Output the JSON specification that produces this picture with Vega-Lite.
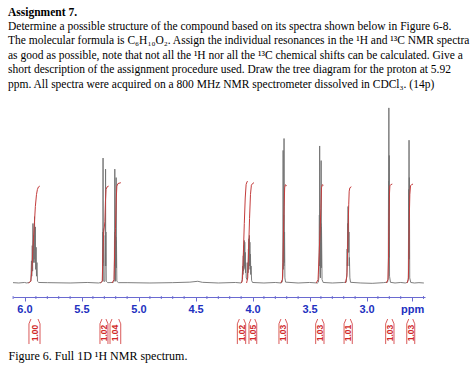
{
  "$schema": "https://vega.github.io/schema/vega-lite/v6.json",
  "width": 412,
  "height": 197,
  "autosize": {"type": "none"},
  "padding": {"left": 13, "top": 100, "right": 49, "bottom": 82},
  "background": "white",
  "config": {
    "view": {"stroke": null},
    "axisX": {
      "labelOverlap": false,
      "labelFlush": false,
      "labelFont": "Liberation Sans",
      "labelFontSize": 11,
      "labelFontWeight": "bold",
      "labelColor": "#2230c0",
      "labelPadding": 2,
      "domainColor": "#6a6ad0",
      "domainWidth": 1,
      "tickColor": "#6a6ad0",
      "tickSize": 4,
      "grid": false,
      "titleFont": "Liberation Serif",
      "titleFontSize": 12,
      "titleFontWeight": "normal",
      "titleColor": "black",
      "titleAnchor": "start",
      "titleAlign": "left",
      "titleBaseline": "alphabetic",
      "titleX": -5,
      "titleY": 62
    }
  },
  "title": {
    "text": "Assignment 7.",
    "subtitle": [
      "Determine a possible structure of the compound based on its spectra shown below in Figure 6-8.",
      "The molecular formula is C₆H₁₀O₂. Assign the individual resonances in the ¹H and ¹³C NMR spectra",
      "as good as possible, note that not all the ¹H nor all the ¹³C chemical shifts can be calculated. Give a",
      "short description of the assignment procedure used. Draw the tree diagram for the proton at 5.92",
      "ppm. All spectra were acquired on a 800 MHz NMR spectrometer dissolved in CDCl₃. (14p)"
    ],
    "anchor": "start",
    "frame": "group",
    "dx": -5,
    "offset": 10,
    "font": "Liberation Serif",
    "fontSize": 11.5,
    "fontWeight": "bold",
    "color": "black",
    "subtitleFont": "Liberation Serif",
    "subtitleFontSize": 11.5,
    "subtitleColor": "black",
    "subtitlePadding": 2,
    "subtitleLineHeight": 14.5
  },
  "datasets": {
    "spec": [
      {"p": 6.101, "i": 0.2}, {"p": 6.05, "i": 0}, {"p": 6.0, "i": 0.3}, {"p": 5.98, "i": 0},
      {"p": 5.955, "i": 0.4}, {"p": 5.944, "i": 1.2}, {"p": 5.939, "i": 13}, {"p": 5.9365, "i": 4},
      {"p": 5.932, "i": 22}, {"p": 5.929, "i": 7}, {"p": 5.926, "i": 35}, {"p": 5.923, "i": 12},
      {"p": 5.919, "i": 28}, {"p": 5.916, "i": 14}, {"p": 5.912, "i": 39}, {"p": 5.909, "i": 12},
      {"p": 5.905, "i": 33}, {"p": 5.902, "i": 8}, {"p": 5.898, "i": 21}, {"p": 5.895, "i": 4},
      {"p": 5.891, "i": 12}, {"p": 5.886, "i": 1}, {"p": 5.875, "i": 0.3},
      {"p": 5.8, "i": 0.2}, {"p": 5.6, "i": 0}, {"p": 5.45, "i": 0.3}, {"p": 5.35, "i": 0},
      {"p": 5.33, "i": 0.3}, {"p": 5.316, "i": 1}, {"p": 5.3135, "i": 30}, {"p": 5.3125, "i": 10},
      {"p": 5.311, "i": 73.5}, {"p": 5.3095, "i": 12}, {"p": 5.308, "i": 32}, {"p": 5.305, "i": 1},
      {"p": 5.295, "i": 1}, {"p": 5.2915, "i": 28}, {"p": 5.2905, "i": 10}, {"p": 5.289, "i": 67},
      {"p": 5.2875, "i": 10}, {"p": 5.286, "i": 30}, {"p": 5.283, "i": 1}, {"p": 5.27, "i": 0.2},
      {"p": 5.225, "i": 0.3}, {"p": 5.2125, "i": 1}, {"p": 5.2105, "i": 30}, {"p": 5.2095, "i": 10},
      {"p": 5.208, "i": 67}, {"p": 5.2065, "i": 10}, {"p": 5.2055, "i": 28}, {"p": 5.2025, "i": 1},
      {"p": 5.1985, "i": 27}, {"p": 5.1975, "i": 9}, {"p": 5.196, "i": 62}, {"p": 5.1945, "i": 9},
      {"p": 5.1935, "i": 25}, {"p": 5.19, "i": 1}, {"p": 5.175, "i": 0.2},
      {"p": 5.1, "i": 0.2}, {"p": 4.9, "i": 0}, {"p": 4.7, "i": 0.2}, {"p": 4.55, "i": 0.5},
      {"p": 4.48, "i": 1}, {"p": 4.44, "i": 0.4}, {"p": 4.3, "i": 0}, {"p": 4.15, "i": 0.3}, {"p": 4.1, "i": 0},
      {"p": 4.092, "i": 1}, {"p": 4.086, "i": 10}, {"p": 4.0835, "i": 5}, {"p": 4.081, "i": 16},
      {"p": 4.079, "i": 7}, {"p": 4.077, "i": 22}, {"p": 4.0745, "i": 9}, {"p": 4.072, "i": 25},
      {"p": 4.07, "i": 10}, {"p": 4.068, "i": 24}, {"p": 4.0655, "i": 8}, {"p": 4.063, "i": 18},
      {"p": 4.061, "i": 6}, {"p": 4.059, "i": 12}, {"p": 4.055, "i": 3}, {"p": 4.048, "i": 2},
      {"p": 4.045, "i": 4}, {"p": 4.041, "i": 12}, {"p": 4.0385, "i": 6}, {"p": 4.036, "i": 20},
      {"p": 4.034, "i": 8}, {"p": 4.032, "i": 26}, {"p": 4.0295, "i": 10}, {"p": 4.027, "i": 28},
      {"p": 4.025, "i": 10}, {"p": 4.023, "i": 24}, {"p": 4.0205, "i": 8}, {"p": 4.018, "i": 17},
      {"p": 4.0155, "i": 5}, {"p": 4.013, "i": 10}, {"p": 4.008, "i": 1.5}, {"p": 4.0, "i": 0.3},
      {"p": 3.9, "i": 0}, {"p": 3.8, "i": 0.3}, {"p": 3.75, "i": 0},
      {"p": 3.74, "i": 0.5}, {"p": 3.734, "i": 4}, {"p": 3.7315, "i": 78}, {"p": 3.7295, "i": 8},
      {"p": 3.7265, "i": 40}, {"p": 3.725, "i": 10}, {"p": 3.7235, "i": 85}, {"p": 3.7215, "i": 12},
      {"p": 3.719, "i": 30}, {"p": 3.716, "i": 3}, {"p": 3.71, "i": 0.5},
      {"p": 3.6, "i": 0}, {"p": 3.5, "i": 0.3}, {"p": 3.43, "i": 0},
      {"p": 3.422, "i": 0.5}, {"p": 3.416, "i": 5}, {"p": 3.4135, "i": 40}, {"p": 3.4125, "i": 10},
      {"p": 3.411, "i": 80.6}, {"p": 3.4095, "i": 10}, {"p": 3.408, "i": 38}, {"p": 3.404, "i": 3},
      {"p": 3.4005, "i": 35}, {"p": 3.3995, "i": 9}, {"p": 3.398, "i": 72}, {"p": 3.3965, "i": 9},
      {"p": 3.395, "i": 33}, {"p": 3.39, "i": 2}, {"p": 3.38, "i": 0.3},
      {"p": 3.3, "i": 0}, {"p": 3.2, "i": 0.3},
      {"p": 3.178, "i": 0.5}, {"p": 3.172, "i": 6}, {"p": 3.17, "i": 20}, {"p": 3.168, "i": 10},
      {"p": 3.166, "i": 35}, {"p": 3.164, "i": 18}, {"p": 3.162, "i": 45}, {"p": 3.16, "i": 22},
      {"p": 3.158, "i": 42}, {"p": 3.156, "i": 18}, {"p": 3.154, "i": 30}, {"p": 3.152, "i": 10},
      {"p": 3.15, "i": 15}, {"p": 3.146, "i": 3}, {"p": 3.14, "i": 0.4},
      {"p": 3.05, "i": 0}, {"p": 2.95, "i": -0.2}, {"p": 2.85, "i": 0.2},
      {"p": 2.815, "i": 0.5}, {"p": 2.809, "i": 3}, {"p": 2.807, "i": 60}, {"p": 2.8055, "i": 15},
      {"p": 2.804, "i": 103}, {"p": 2.8025, "i": 15}, {"p": 2.801, "i": 75}, {"p": 2.798, "i": 4},
      {"p": 2.79, "i": 0.4},
      {"p": 2.75, "i": 0}, {"p": 2.7, "i": 0.3}, {"p": 2.66, "i": 0},
      {"p": 2.64, "i": 0.4}, {"p": 2.633, "i": 3}, {"p": 2.63, "i": 55}, {"p": 2.6285, "i": 14},
      {"p": 2.627, "i": 84}, {"p": 2.6255, "i": 14}, {"p": 2.624, "i": 62}, {"p": 2.621, "i": 3},
      {"p": 2.612, "i": 0.3},
      {"p": 2.58, "i": 0}, {"p": 2.54, "i": 0.2}, {"p": 2.497, "i": 0}
    ],
    "integ": [
      {"g": 1, "p": 5.965, "v": 0}, {"g": 1, "p": 5.945, "v": 1}, {"g": 1, "p": 5.935, "v": 8},
      {"g": 1, "p": 5.925, "v": 22}, {"g": 1, "p": 5.915, "v": 33}, {"g": 1, "p": 5.905, "v": 45},
      {"g": 1, "p": 5.895, "v": 52}, {"g": 1, "p": 5.887, "v": 55}, {"g": 1, "p": 5.878, "v": 56.5},
      {"g": 1, "p": 5.866, "v": 57},
      {"g": 2, "p": 5.335, "v": 0}, {"g": 2, "p": 5.318, "v": 1}, {"g": 2, "p": 5.312, "v": 18},
      {"g": 2, "p": 5.305, "v": 30}, {"g": 2, "p": 5.295, "v": 36}, {"g": 2, "p": 5.29, "v": 48},
      {"g": 2, "p": 5.285, "v": 55}, {"g": 2, "p": 5.276, "v": 56.5}, {"g": 2, "p": 5.262, "v": 57},
      {"g": 3, "p": 5.232, "v": 0}, {"g": 3, "p": 5.215, "v": 2}, {"g": 3, "p": 5.208, "v": 22},
      {"g": 3, "p": 5.202, "v": 32}, {"g": 3, "p": 5.195, "v": 50}, {"g": 3, "p": 5.19, "v": 57},
      {"g": 3, "p": 5.18, "v": 58.5}, {"g": 3, "p": 5.155, "v": 59},
      {"g": 4, "p": 4.097, "v": 0}, {"g": 4, "p": 4.088, "v": 2}, {"g": 4, "p": 4.08, "v": 18},
      {"g": 4, "p": 4.072, "v": 35}, {"g": 4, "p": 4.064, "v": 50}, {"g": 4, "p": 4.056, "v": 58},
      {"g": 4, "p": 4.048, "v": 59.5}, {"g": 4, "p": 4.042, "v": 60},
      {"g": 5, "p": 4.052, "v": 0}, {"g": 5, "p": 4.042, "v": 3}, {"g": 5, "p": 4.034, "v": 20},
      {"g": 5, "p": 4.026, "v": 38}, {"g": 5, "p": 4.018, "v": 52}, {"g": 5, "p": 4.01, "v": 57.5},
      {"g": 5, "p": 4.0, "v": 58.5}, {"g": 5, "p": 3.987, "v": 59},
      {"g": 6, "p": 3.752, "v": 0}, {"g": 6, "p": 3.738, "v": 2}, {"g": 6, "p": 3.733, "v": 12},
      {"g": 6, "p": 3.728, "v": 30}, {"g": 6, "p": 3.723, "v": 45}, {"g": 6, "p": 3.718, "v": 56},
      {"g": 6, "p": 3.712, "v": 57.8}, {"g": 6, "p": 3.7, "v": 57.2},
      {"g": 7, "p": 3.44, "v": 0}, {"g": 7, "p": 3.425, "v": 2}, {"g": 7, "p": 3.415, "v": 18},
      {"g": 7, "p": 3.408, "v": 30}, {"g": 7, "p": 3.4, "v": 44}, {"g": 7, "p": 3.395, "v": 56},
      {"g": 7, "p": 3.388, "v": 57.8}, {"g": 7, "p": 3.378, "v": 57.5},
      {"g": 8, "p": 3.185, "v": 0}, {"g": 8, "p": 3.172, "v": 4}, {"g": 8, "p": 3.166, "v": 18},
      {"g": 8, "p": 3.161, "v": 32}, {"g": 8, "p": 3.156, "v": 46}, {"g": 8, "p": 3.152, "v": 54},
      {"g": 8, "p": 3.146, "v": 56}, {"g": 8, "p": 3.133, "v": 56.6},
      {"g": 9, "p": 2.826, "v": 0}, {"g": 9, "p": 2.812, "v": 2}, {"g": 9, "p": 2.807, "v": 15},
      {"g": 9, "p": 2.803, "v": 35}, {"g": 9, "p": 2.799, "v": 52}, {"g": 9, "p": 2.795, "v": 57.2},
      {"g": 9, "p": 2.788, "v": 57.8}, {"g": 9, "p": 2.774, "v": 58.2},
      {"g": 10, "p": 2.645, "v": 0}, {"g": 10, "p": 2.633, "v": 2}, {"g": 10, "p": 2.629, "v": 15},
      {"g": 10, "p": 2.625, "v": 38}, {"g": 10, "p": 2.62, "v": 52}, {"g": 10, "p": 2.614, "v": 57.2},
      {"g": 10, "p": 2.606, "v": 57.8}, {"g": 10, "p": 2.592, "v": 58.2}
    ],
    "labels": [
      {"lab": "1.00", "a": 5.961, "b": 5.864, "c": 5.908},
      {"lab": "1.02", "a": 5.338, "b": 5.268, "c": 5.303},
      {"lab": "1.04", "a": 5.25, "b": 5.156, "c": 5.206},
      {"lab": "1.02", "a": 4.133, "b": 4.06, "c": 4.096},
      {"lab": "1.05", "a": 4.031, "b": 3.963, "c": 3.998},
      {"lab": "1.03", "a": 3.768, "b": 3.695, "c": 3.73},
      {"lab": "1.03", "a": 3.446, "b": 3.373, "c": 3.408},
      {"lab": "1.01", "a": 3.197, "b": 3.125, "c": 3.16},
      {"lab": "1.03", "a": 2.832, "b": 2.759, "c": 2.795},
      {"lab": "1.03", "a": 2.647, "b": 2.577, "c": 2.612}
    ],
    "minor": [
      {"p": 6.1}, {"p": 5.9}, {"p": 5.8}, {"p": 5.7}, {"p": 5.6}, {"p": 5.4}, {"p": 5.3}, {"p": 5.2}, {"p": 5.1},
      {"p": 4.9}, {"p": 4.8}, {"p": 4.7}, {"p": 4.6}, {"p": 4.4}, {"p": 4.3}, {"p": 4.2}, {"p": 4.1},
      {"p": 3.9}, {"p": 3.8}, {"p": 3.7}, {"p": 3.6}, {"p": 3.4}, {"p": 3.3}, {"p": 3.2}, {"p": 3.1},
      {"p": 2.9}, {"p": 2.8}, {"p": 2.7}, {"p": 2.5}
    ]
  },
  "layer": [
    {
      "data": {"name": "spec"},
      "mark": {"type": "line", "color": "#707070", "strokeWidth": 0.9},
      "encoding": {
        "x": {
          "field": "p", "type": "quantitative",
          "scale": {"domain": [2.487, 6.101], "reverse": true, "nice": false, "zero": false},
          "axis": {
            "values": [6.0, 5.5, 5.0, 4.5, 4.0, 3.5, 3.0, 2.6],
            "labelExpr": "datum.value < 2.7 ? 'ppm' : format(datum.value, '.1f')",
            "title": "Figure 6. Full 1D ¹H NMR spectrum."
          }
        },
        "y": {
          "field": "i", "type": "quantitative",
          "scale": {"domain": [-8.24, 107.65], "nice": false, "zero": false},
          "axis": null
        }
      }
    },
    {
      "data": {"name": "minor"},
      "mark": {"type": "rule", "color": "#6a6ad0", "strokeWidth": 1},
      "encoding": {
        "x": {"field": "p", "type": "quantitative"},
        "y": {"datum": -7.7, "type": "quantitative", "axis": null},
        "y2": {"datum": -9.4}
      }
    },
    {
      "data": {"name": "integ"},
      "mark": {"type": "line", "color": "#c43c3c", "strokeWidth": 1},
      "encoding": {
        "x": {"field": "p", "type": "quantitative"},
        "y": {"field": "v", "type": "quantitative", "axis": null},
        "detail": {"field": "g", "type": "nominal"}
      }
    },
    {
      "data": {"name": "labels"},
      "mark": {"type": "rule", "color": "#d03030", "strokeWidth": 0.8},
      "encoding": {
        "x": {"field": "a", "type": "quantitative"},
        "y": {"datum": -24.0, "type": "quantitative", "axis": null},
        "y2": {"datum": -35.9}
      }
    },
    {
      "data": {"name": "labels"},
      "mark": {"type": "rule", "color": "#d03030", "strokeWidth": 0.8},
      "encoding": {
        "x": {"field": "b", "type": "quantitative"},
        "y": {"datum": -24.0, "type": "quantitative", "axis": null},
        "y2": {"datum": -35.9}
      }
    },
    {
      "data": {"name": "labels"},
      "mark": {"type": "rule", "color": "#d03030", "strokeWidth": 0.8, "x2Offset": 2},
      "encoding": {
        "x": {"field": "a", "type": "quantitative"},
        "x2": {"field": "a"},
        "y": {"datum": -24.0, "type": "quantitative", "axis": null},
        "y2": {"datum": -21.2}
      }
    },
    {
      "data": {"name": "labels"},
      "mark": {"type": "rule", "color": "#d03030", "strokeWidth": 0.8, "x2Offset": -2},
      "encoding": {
        "x": {"field": "b", "type": "quantitative"},
        "x2": {"field": "b"},
        "y": {"datum": -24.0, "type": "quantitative", "axis": null},
        "y2": {"datum": -21.2}
      }
    },
    {
      "data": {"name": "labels"},
      "mark": {"type": "text", "color": "#d02828", "angle": 270, "align": "center", "baseline": "middle", "font": "Liberation Sans", "fontSize": 8.5, "fontWeight": "bold"},
      "encoding": {
        "x": {"field": "c", "type": "quantitative"},
        "y": {"datum": -29.4, "type": "quantitative", "axis": null},
        "text": {"field": "lab"}
      }
    }
  ]
}
